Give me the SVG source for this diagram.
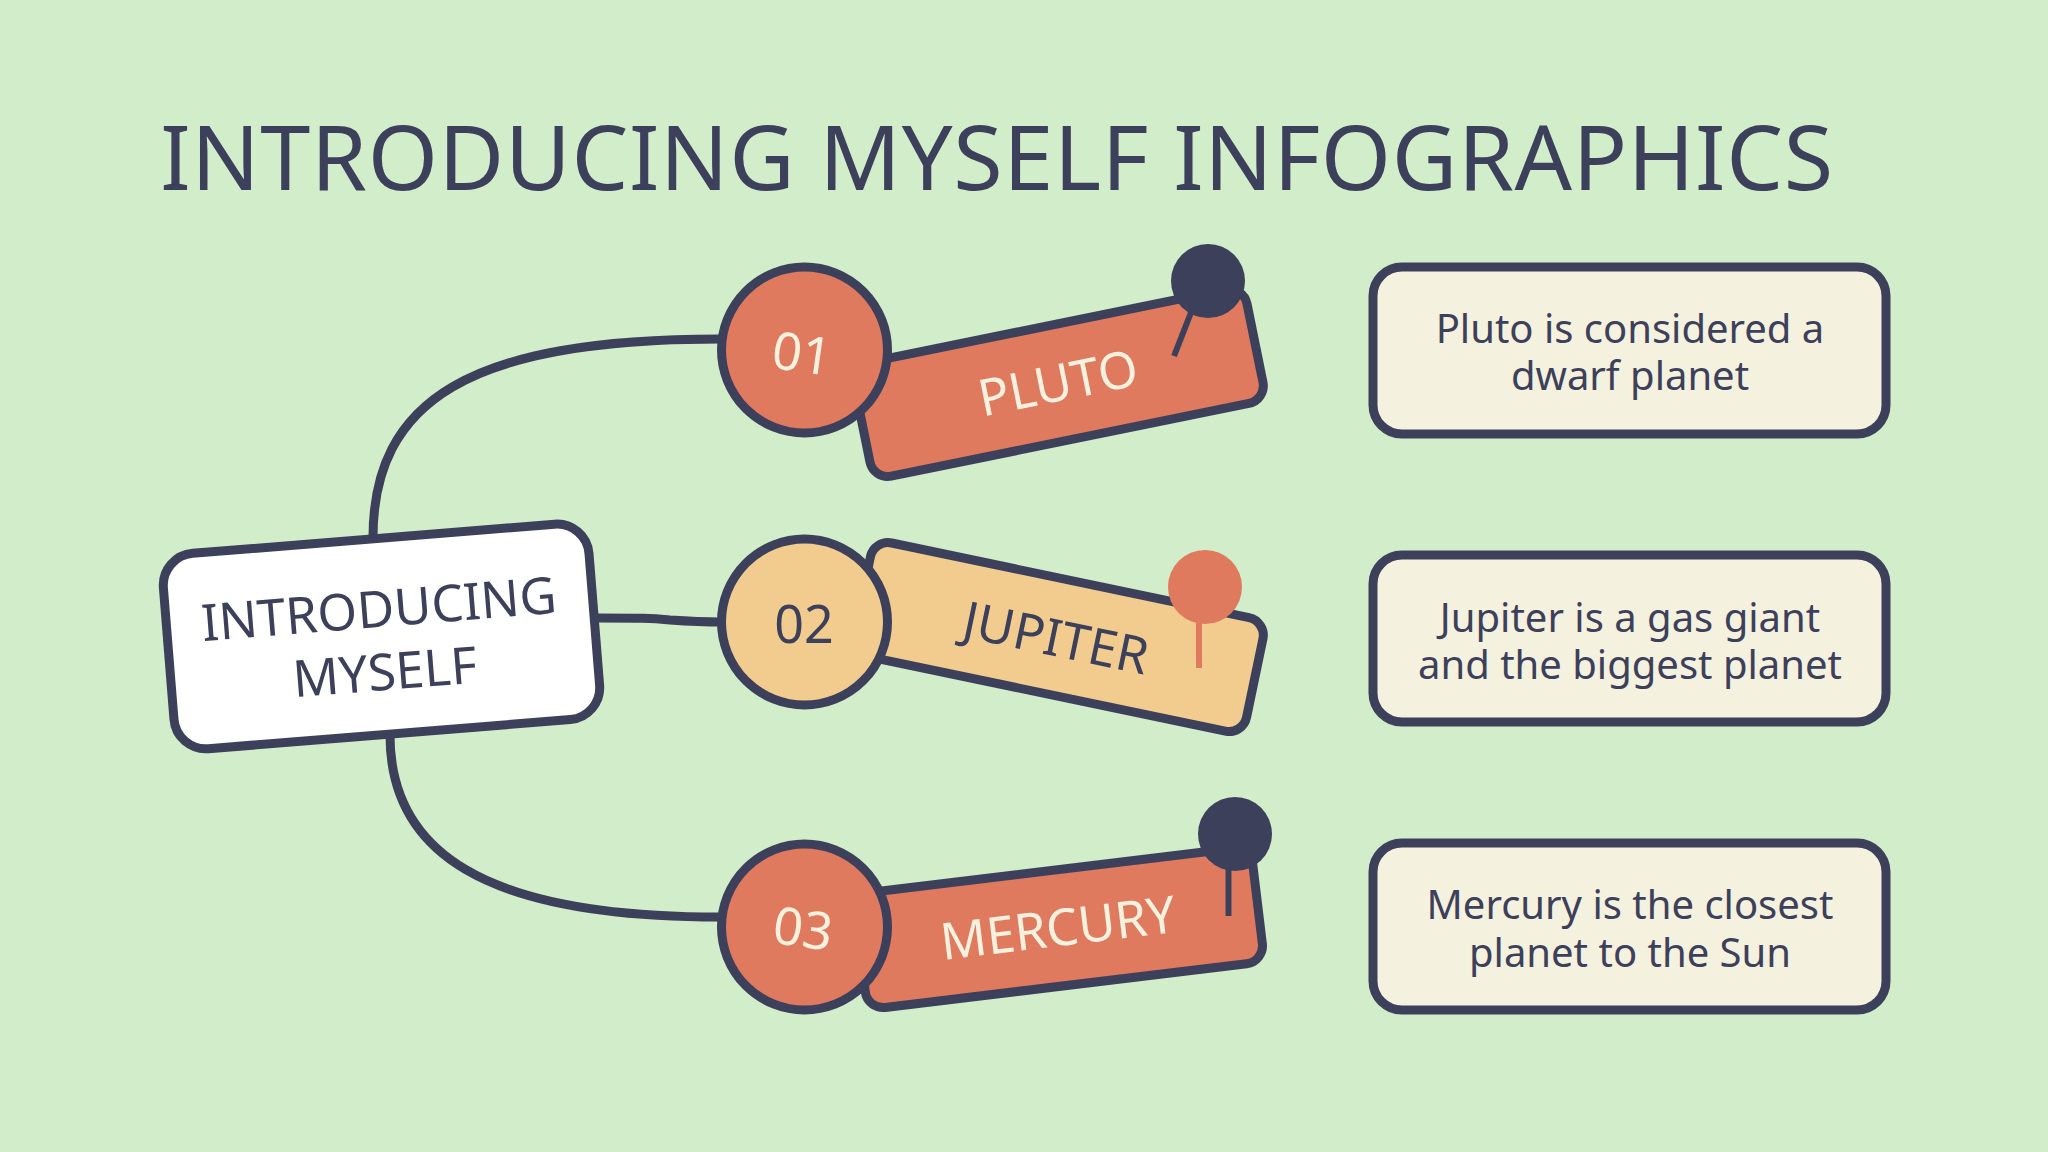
<svg xmlns="http://www.w3.org/2000/svg" width="2048" height="1152" viewBox="0 0 2048 1152">
<style>
text{font-family:"Noto Sans","Open Sans","DejaVu Sans",sans-serif;text-anchor:middle;fill:#3d405b}
.st{stroke:#3d405b;stroke-width:9}
.line{fill:none;stroke:#3d405b;stroke-width:9}
.terra{fill:#e07a5f}.sand{fill:#f2cc8f}
.cream{fill:#f4f1de}
.box{fill:#f4f1de;stroke:#3d405b;stroke-width:9}
.lab{font-size:51px}.num{font-size:52px}
.desc{font-size:40px}
</style>
<rect width="2048" height="1152" fill="#d2edc9"/>
<text x="997" y="190" font-size="90" letter-spacing="0.65">INTRODUCING MYSELF INFOGRAPHICS</text>
<g id="connectors">
<path class="line" d="M373 538C373 400 470 339 720 339"/>
<path class="line" d="M598 618C640 618 650 618 670 620C685 621 700 622 720 622"/>
<path class="line" d="M390 735C390 850 480 917 720 917"/>
</g>
<g id="center-node">
<rect class="st" fill="#fff" x="168" y="538.5" width="427" height="196" rx="32" transform="rotate(-4.6 381 636.5)"/>
<text class="lab" x="379" y="627" transform="rotate(-4.6 379 610)">INTRODUCING</text>
<text class="lab" x="385" y="690" transform="rotate(-4.6 385 673)">MYSELF</text>
</g>
<g id="pluto">
<rect class="st terra" x="858" y="325" width="401" height="116" rx="18" transform="rotate(-11.5 1058 383)"/>
<circle class="st terra" cx="804.5" cy="350" r="83"/>
<text class="num cream" x="802" y="372" transform="rotate(8 802 353)">01</text>
<text class="lab cream" x="1058" y="401" transform="rotate(-11.5 1058 383)">PLUTO</text>
<line x1="1192" y1="310" x2="1174" y2="356" stroke="#3d405b" stroke-width="6"/>
<circle cx="1208" cy="281" r="37" fill="#3d405b"/>
</g>
<g id="jupiter">
<rect class="st sand" x="858" y="579" width="401" height="116" rx="18" transform="rotate(11.8 1058 637)"/>
<circle class="st sand" cx="804.5" cy="622" r="83"/>
<text class="num" x="804" y="643">02</text>
<text class="lab" x="1056" y="656" transform="rotate(11.8 1056 638)">JUPITER</text>
<line x1="1199" y1="615" x2="1199" y2="668" stroke="#e07a5f" stroke-width="6"/>
<circle cx="1205" cy="587" r="37" fill="#e07a5f"/>
</g>
<g id="mercury">
<rect class="st terra" x="859" y="870" width="400" height="116" rx="18" transform="rotate(-6.9 1059 928)"/>
<circle class="st terra" cx="804.5" cy="927" r="83"/>
<text class="num cream" x="803" y="947" transform="rotate(8 803 929)">03</text>
<text class="lab cream" x="1058" y="946" transform="rotate(-6.9 1058 928)">MERCURY</text>
<line x1="1228.5" y1="860" x2="1228.5" y2="916" stroke="#3d405b" stroke-width="6"/>
<circle cx="1235" cy="834" r="37" fill="#3d405b"/>
</g>
<g id="desc-1"><rect class="box" x="1373" y="267" width="513" height="167" rx="29"/>
<text class="desc" x="1630" y="343">Pluto is considered a</text><text class="desc" x="1630" y="390">dwarf planet</text></g>
<g id="desc-2"><rect class="box" x="1373" y="555" width="513" height="167" rx="29"/>
<text class="desc" x="1630" y="632">Jupiter is a gas giant</text><text class="desc" x="1630" y="679">and the biggest planet</text></g>
<g id="desc-3"><rect class="box" x="1373" y="843" width="513" height="167" rx="29"/>
<text class="desc" x="1630" y="919">Mercury is the closest</text><text class="desc" x="1630" y="967">planet to the Sun</text></g>
</svg>
